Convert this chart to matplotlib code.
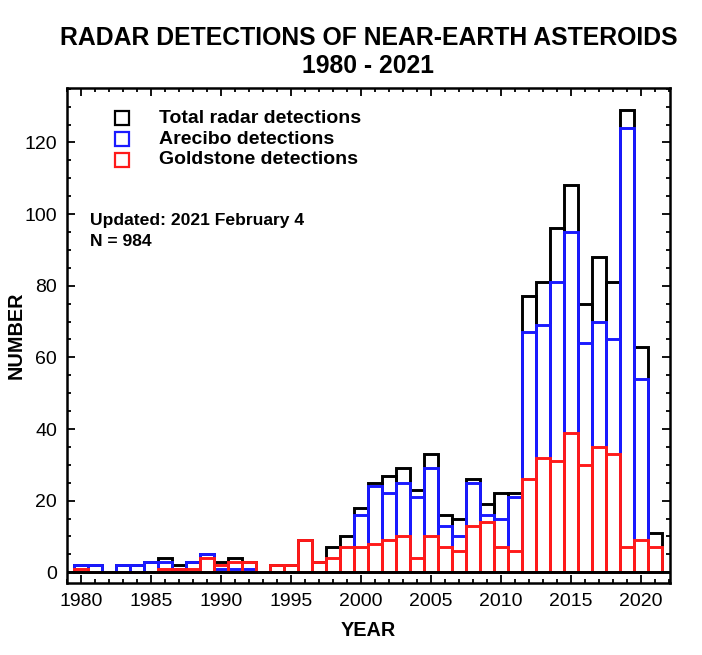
import matplotlib
matplotlib.use("Agg")
import matplotlib.pyplot as plt
import numpy as np

plt.rcParams['font.family'] = ['Liberation Sans', 'DejaVu Sans']

years = list(range(1980, 2022))

# total radar detections per year
total = [2, 2, 0, 2, 2, 3, 4, 2, 3, 5,
         3, 4, 3, 0, 2, 2, 9, 3, 7, 10,
         18, 25, 27, 29, 23, 33, 16, 15, 26, 19,
         22, 22, 77, 81, 96, 108, 75, 88, 81, 129,
         63, 11]

# Arecibo detections per year
arecibo = [2, 2, 0, 2, 2, 3, 3, 1, 3, 5,
           1, 1, 1, 0, 0, 0, 0, 0, 0, 0,
           16, 24, 22, 25, 21, 29, 13, 10, 25, 16,
           15, 21, 67, 69, 81, 95, 64, 70, 65, 124,
           54, 0]

# Goldstone detections per year
goldstone = [1, 0, 0, 0, 0, 0, 1, 1, 1, 4,
             2, 3, 3, 0, 2, 2, 9, 3, 4, 7,
             7, 8, 9, 10, 4, 10, 7, 6, 13, 14,
             7, 6, 26, 32, 31, 39, 30, 35, 33, 7,
             9, 7]

fig = plt.figure(figsize=(7.02, 6.55), dpi=100)
ax = fig.add_axes([0.0954, 0.1099, 0.859, 0.7557])

lw = 2.1
ax.bar(years, total, width=1.0, fill=False, edgecolor='black', linewidth=lw)
ax.bar(years, arecibo, width=1.0, fill=False, edgecolor='#1a1aff', linewidth=lw)
ax.bar(years, goldstone, width=1.0, fill=False, edgecolor='#ff1a1a', linewidth=lw)
ax.axhline(0, color='black', linewidth=lw)

ax.set_xlim(1979, 2022.1)
ax.set_ylim(-3, 135.2)
ax.set_xticks(range(1980, 2021, 5))
ax.set_xticks(range(1979, 2023), minor=True)
ax.set_yticks(range(0, 121, 20))
ax.set_yticks(range(0, 136, 5), minor=True)
ax.tick_params(which='both', direction='in', top=True, right=True, width=1.3)
ax.tick_params(which='major', length=6, labelsize=14, pad=7)
ax.tick_params(which='minor', length=3)
for s in ax.spines.values():
    s.set_linewidth(1.8)

ax.set_xlabel('YEAR', fontsize=14.3, fontweight='bold', labelpad=8)
ax.set_ylabel('NUMBER', fontsize=14.3, fontweight='bold', va='center')
ax.yaxis.set_label_coords(-0.085, 0.5)

# title centred over the plot area
xc = 0.0954 + 0.859 / 2
fig.text(xc, 0.942, 'RADAR DETECTIONS OF NEAR-EARTH ASTEROIDS', ha='center', va='center',
         fontsize=17.8, fontweight='bold')
fig.text(xc, 0.899, '1980 - 2021', ha='center', va='center',
         fontsize=17.8, fontweight='bold')

# legend drawn by hand
labels = ['Total radar detections', 'Arecibo detections', 'Goldstone detections']
colors = ['black', '#1a1aff', '#ff1a1a']
rows = [0.939, 0.897, 0.855]
for lab, col, yy in zip(labels, colors, rows):
    ax.plot([0.091], [yy], marker='s', markersize=10, markerfacecolor='none',
            markeredgecolor=col, markeredgewidth=1.6, transform=ax.transAxes, clip_on=False)
    ax.text(0.153, yy, lab, transform=ax.transAxes, va='center', fontsize=14, fontweight='bold')

ax.text(0.038, 0.733, 'Updated: 2021 February 4', transform=ax.transAxes, va='center',
        fontsize=12.6, fontweight='bold')
ax.text(0.038, 0.689, 'N = 984', transform=ax.transAxes, va='center',
        fontsize=12.6, fontweight='bold')

fig.savefig('out.png', dpi=100)
